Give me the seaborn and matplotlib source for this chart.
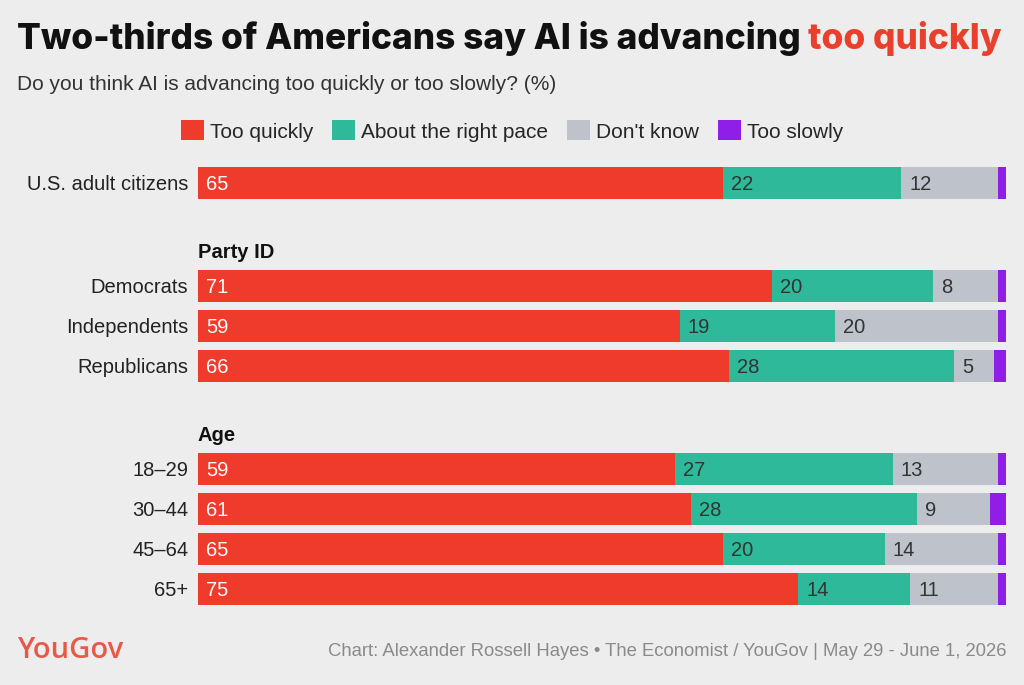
import matplotlib
matplotlib.use("Agg")
import matplotlib.pyplot as plt
from matplotlib.patches import Patch
import pandas as pd
import seaborn as sns

# data
rows = ["U.S. adult citizens", "Democrats", "Independents", "Republicans",
        "18–29", "30–44", "45–64", "65+"]
group_of = ["all", "Party ID", "Party ID", "Party ID", "Age", "Age", "Age", "Age"]
too_quickly = [65, 71, 59, 66, 59, 61, 65, 75]
right_pace = [22, 20, 19, 28, 27, 28, 20, 14]
dont_know = [12, 8, 20, 5, 13, 9, 14, 11]
too_slowly = [1, 1, 1, 1.5, 1, 2, 1, 1]
series = ["Too quickly", "About the right pace", "Don't know", "Too slowly"]
colors = ["#ee3b2b", "#2db99a", "#bec2ca", "#8f1fe6"]

BG = "#ededed"
sns.set_theme(style="white")
plt.rcParams["font.family"] = ["Liberation Sans", "DejaVu Sans"]

# layout: row positions with extra gap between groups
pos = []
headers = {}
p = 0.0
for i, g in enumerate(group_of):
    if i > 0 and g != group_of[i - 1]:
        p += 2.575
        headers[g] = p - 0.875
    elif i > 0:
        p += 1.0
    pos.append(p)

df = pd.DataFrame({"row": rows, "pos": pos, "q": too_quickly, "r": right_pace,
                   "d": dont_know, "s": too_slowly})
# bars fill the full width (rounded shares don't always add to 100)
total = df[["q", "r", "d", "s"]].sum(axis=1)
df["c1"] = df["q"] / total * 100
df["c2"] = (df["q"] + df["r"]) / total * 100
df["c3"] = (df["q"] + df["r"] + df["d"]) / total * 100
df["c4"] = 100.0

fig = plt.figure(figsize=(10.24, 6.85), dpi=100, facecolor=BG)
ax = fig.add_axes([198 / 1024, 1 - 610 / 685, 808 / 1024, 450 / 685])
ax.set_facecolor(BG)

for col, c in zip(["c4", "c3", "c2", "c1"], colors[::-1]):
    sns.barplot(data=df, x=col, y="pos", orient="h", native_scale=True,
                color=c, width=0.82, errorbar=None, linewidth=0,
                saturation=1, ax=ax)

ax.set_xlim(0, 100)
ax.set_ylim(10.675, -0.575)
ax.set_yticks(df["pos"])
ax.set_yticklabels(rows, fontsize=14.5, color="#222222")
ax.tick_params(axis="y", length=0, pad=7)
ax.set_xticks([])
ax.set_xlabel("")
ax.set_ylabel("")
for s in ax.spines.values():
    s.set_visible(False)

# value labels
for _, r in df.iterrows():
    ax.text(1.0, r["pos"], str(r["q"]), color="white", fontsize=14.5,
            va="center_baseline", ha="left")
    ax.text(r["c1"] + 1.0, r["pos"], str(r["r"]), color="#333333",
            fontsize=14.5, va="center_baseline", ha="left")
    ax.text(r["c2"] + 1.0, r["pos"], str(r["d"]), color="#333333",
            fontsize=14.5, va="center_baseline", ha="left")

for g, hp in headers.items():
    ax.text(0, hp, g, fontsize=14.5, fontweight="bold", color="#111111",
            va="center_baseline", ha="left")

# title in two colours
t1 = fig.text(17 / 1024, 1 - 38 / 685, "Two-thirds of Americans say AI is advancing ",
              fontsize=25.4, fontweight="heavy", family=["Inter", "DejaVu Sans"],
              color="#111111", va="center", ha="left")
fig.canvas.draw()
bb = t1.get_window_extent()
fig.text(bb.x1 / fig.bbox.width, 1 - 38 / 685, "too quickly", fontsize=25.4,
         fontweight="heavy", family=["Inter", "DejaVu Sans"], color="#e8402c",
         va="center", ha="left")

fig.text(17 / 1024, 1 - 85 / 685,
         "Do you think AI is advancing too quickly or too slowly? (%)",
         fontsize=15, color="#333333", va="center", ha="left")

handles = [Patch(facecolor=c, edgecolor="none") for c in colors]
fig.legend(handles, series, loc="center", bbox_to_anchor=(0.5, 1 - 131 / 685),
           ncol=4, frameon=False, fontsize=15, handlelength=1.1,
           handleheight=1.1, handletextpad=0.3, columnspacing=0.9)

fig.text(17 / 1024, 1 - 651 / 685, "YouGov", fontsize=21, color="#e85a48",
         va="center", ha="left", fontweight="semibold",
         family=["Open Sans", "DejaVu Sans"])
fig.text(1006 / 1024, 1 - 652 / 685,
         "Chart: Alexander Rossell Hayes • The Economist / YouGov | May 29 - June 1, 2026",
         fontsize=13.35, color="#8a8a8a", va="center", ha="right")

fig.savefig("out.png", dpi=100, facecolor=BG)
